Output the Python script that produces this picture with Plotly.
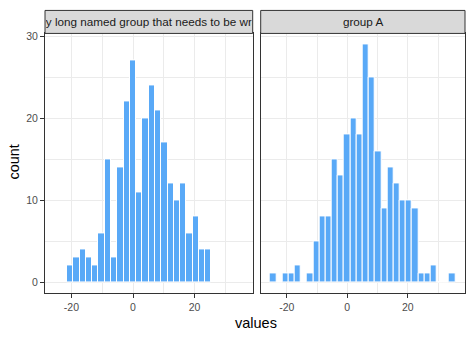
import plotly.graph_objects as go

# Histogram bins shared by both facets (bin index k, centre = k * BIN_WIDTH)
BIN_WIDTH = 2.04
bins_long = list(range(-10, 13))
counts_long = [2, 3, 4, 3, 2, 6, 15, 3, 14, 22, 27, 11, 20, 24, 21, 17, 12, 10, 12, 6, 8, 4, 4]

bins_a = list(range(-12, 18))
counts_a = [1, 0, 1, 1, 2, 0, 1, 5, 8, 8, 15, 13, 18, 20, 18, 29, 25, 16, 9, 14,
            12, 10, 10, 9, 1, 1, 2, 0, 0, 1]

facet_labels = ["A really long named group that needs to be wrapped", "group A"]
x_ticks = [-20, 0, 20]
y_ticks = [0, 10, 20, 30]

W, H = 474, 338
FONT = "Liberation Sans, Arial, Helvetica, sans-serif"
BAR = "#59A9F7"
DARK = "#333333"
GRID = "#EBEBEB"

# panel geometry in pixels
panels = [(45.0, 252.7), (260.7, 465.0)]
plot_top, plot_bottom = 30.7, 293.0
strip_top = 7.5


def px(x):
    return x / W


def py(y):
    return 1 - y / H


fig = go.Figure()
for i, (bins, counts) in enumerate([(bins_long, counts_long), (bins_a, counts_a)]):
    fig.add_trace(go.Bar(
        x=[k * BIN_WIDTH for k in bins],
        y=counts,
        width=BIN_WIDTH,
        marker=dict(color=BAR, line=dict(color="white", width=1)),
        xaxis="x" if i == 0 else "x2",
        yaxis="y" if i == 0 else "y2",
        showlegend=False,
        hoverinfo="x+y",
    ))

common_x = dict(
    range=[-28.6, 38.9], tickvals=x_ticks, ticktext=[str(v).replace("-", "-") for v in x_ticks],
    showgrid=True, gridcolor=GRID, gridwidth=1.1,
    minor=dict(tickvals=[-10, 10, 30], showgrid=True, gridcolor=GRID, gridwidth=0.6, ticks=""),
    ticks="outside", ticklen=4, tickwidth=1, tickcolor=DARK,
    showline=True, linecolor=DARK, linewidth=1, mirror=True,
    zeroline=False, tickfont=dict(family=FONT, size=10.5, color="#4D4D4D"),
)
common_y = dict(
    range=[-1.38, 30.35], tickvals=y_ticks,
    showgrid=True, gridcolor=GRID, gridwidth=1.1,
    minor=dict(tickvals=[5, 15, 25], showgrid=True, gridcolor=GRID, gridwidth=0.6, ticks=""),
    showline=True, linecolor=DARK, linewidth=1, mirror=True,
    zeroline=False, tickfont=dict(family=FONT, size=10.5, color="#4D4D4D"),
)

fig.update_layout(
    width=W, height=H,
    margin=dict(l=0, r=0, t=0, b=0),
    paper_bgcolor="white", plot_bgcolor="white",
    bargap=0,
    xaxis=dict(common_x, domain=[px(panels[0][0]), px(panels[0][1])], anchor="y"),
    xaxis2=dict(common_x, domain=[px(panels[1][0]), px(panels[1][1])], anchor="y2"),
    yaxis=dict(common_y, domain=[py(plot_bottom), py(plot_top)], anchor="x",
               ticks="outside", ticklen=4, tickwidth=1, tickcolor=DARK),
    yaxis2=dict(common_y, domain=[py(plot_bottom), py(plot_top)], anchor="x2",
                ticks="", showticklabels=False),
)

# facet strips
shapes = []
annotations = []
for (x0, x1), label in zip(panels, facet_labels):
    shapes.append(dict(
        type="rect", xref="paper", yref="paper",
        x0=px(x0), x1=px(x1), y0=py(plot_top), y1=py(strip_top),
        fillcolor="#D9D9D9", line=dict(color=DARK, width=1), layer="above",
    ))
    annotations.append(dict(
        text=label, xref="paper", yref="paper",
        x=px((x0 + x1) / 2), y=py((plot_top + strip_top) / 2),
        xanchor="center", yanchor="middle", showarrow=False,
        width=x1 - x0 - 2, borderpad=0,
        font=dict(family=FONT, size=11.7, color="#1A1A1A"),
    ))

# axis titles
annotations.append(dict(
    text="values", xref="paper", yref="paper", x=px(256), y=py(323),
    xanchor="center", yanchor="middle", showarrow=False,
    font=dict(family=FONT, size=14.5, color="black"),
))
annotations.append(dict(
    text="count", xref="paper", yref="paper", x=px(14), y=py(161),
    xanchor="center", yanchor="middle", showarrow=False, textangle=-90,
    font=dict(family=FONT, size=14.5, color="black"),
))

fig.update_layout(shapes=shapes, annotations=annotations)
fig.write_html("out.html")
